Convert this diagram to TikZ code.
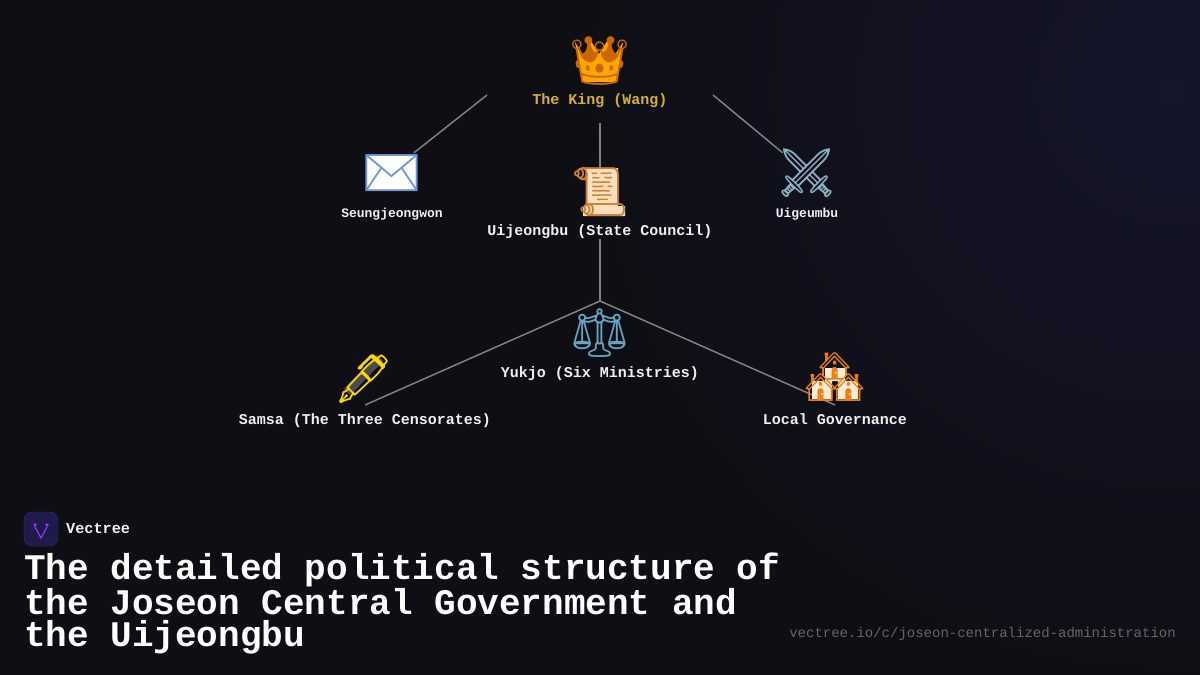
\documentclass[tikz,border=0pt]{standalone}
\usepackage{fontspec}
\setmainfont{Liberation Mono}
\newfontfamily\emojifont{Noto Emoji}
\usetikzlibrary{positioning}
\definecolor{bgbase}{HTML}{0E0E14}
\definecolor{bgglow}{HTML}{15152B}
\definecolor{linkgray}{HTML}{808080}
\definecolor{kinggold}{HTML}{D4AF37}
\definecolor{labelwhite}{HTML}{F0F0F0}
\definecolor{urlgray}{HTML}{666666}
\definecolor{logofill}{HTML}{1E1B4B}
\definecolor{logoedge}{HTML}{312E81}
\definecolor{logopurple}{HTML}{9333EA}
\pgfdeclarelayer{backdrop}
\pgfdeclarelayer{links}
\pgfsetlayers{backdrop,links,main}

\begin{document}
\begin{tikzpicture}[x=1pt,y=-1pt,node distance=5pt,
  icon/.style={font=\emojifont\fontsize{48}{48}\selectfont,inner sep=0pt,text height=36pt,text depth=14pt},
  mainlabel/.style={font=\bfseries\fontsize{15}{18}\selectfont,text=labelwhite,inner sep=0pt,text height=10pt,text depth=3pt},
  sidelabel/.style={font=\bfseries\fontsize{13}{16}\selectfont,text=labelwhite,inner sep=0pt,text height=9pt,text depth=3pt},
  link/.style={draw=linkgray,line width=1.5pt}]
\useasboundingbox (0,0) rectangle (1200,675);
% backdrop
\begin{pgfonlayer}{backdrop}
\fill[bgbase] (0,0) rectangle (1200,675);
\clip (0,0) rectangle (1200,675);
\shade[inner color=bgglow,outer color=bgbase] (1170,90) circle (620);
\end{pgfonlayer}

% link ends
\coordinate (kingleft) at (487,95);
\coordinate (kingright) at (713,95);
\coordinate (kingfoot) at (600,123);
\coordinate (fork) at (600,301);
\coordinate (samsafoot) at (365,405);
\coordinate (localfoot) at (835,405);

% colour under the emoji
\fill[orange!70!yellow] (575,42) -- (585,58) -- (589,38) -- (599,54) -- (609,38) -- (613,58) -- (623,42) -- (616,82) -- (582,82) -- cycle;
\fill[white] (367,155) rectangle (417,190);
\fill[orange!25!white] (586,168) rectangle (618,208) (583,206) rectangle (625,216);
\draw[black!70,line width=9pt] (347,392) -- (380,358);
\fill[orange!15!white] (812,381) rectangle (832,399) (838,381) rectangle (858,399) (825,368) rectangle (845,381);

% offices
\node[icon,text=orange!80!black] (crown) at (600,66) {👑};
\node[mainlabel,text=kinggold] (king) at (600,101) {The King (Wang)};
\node[icon,text=cyan!45!blue!60!white] (envelope) at (392,178) {✉};
\node[sidelabel,below=of envelope] (seung) {Seungjeongwon};
\node[icon,text=cyan!35!gray!80!white] (swords) at (807,178) {⚔};
\node[sidelabel,below=of swords] (uigeum) {Uigeumbu};
\node[icon,text=brown!80!orange] (scroll) at (600,197) {📜};
\node[mainlabel] (council) at (600,232) {Uijeongbu (State Council)};
\node[icon,text=cyan!50!gray] (scales) at (600,338) {⚖};
\node[mainlabel] (yukjo) at (600,374) {Yukjo (Six Ministries)};
\node[icon,text=yellow!75!orange] (pen) at (364,384) {🖋};
\node[mainlabel] (samsa) at (365,421) {Samsa (The Three Censorates)};
\node[icon,text=orange!70!brown] (houses) at (835,382) {🏘};
\node[mainlabel] (local) at (835,421) {Local Governance};

% links
\begin{pgfonlayer}{links}
\draw[link] (kingleft) -- (envelope.49);
\draw[link] (kingright) -- (swords.134);
\draw[link] (kingfoot) -- (scroll);
\draw[link] (council.south) -- (fork);
\draw[link] (fork) -- (samsafoot);
\draw[link] (fork) -- (localfoot);
\end{pgfonlayer}

% brand
\draw[logoedge,fill=logofill,rounded corners=8pt] (24,512) rectangle (58,546);
\draw[logopurple,line width=1.3pt] (35,527) -- (41,538) -- (47,527);
\fill[logopurple] (35,525) circle (1.8) (47,525) circle (1.8);
\node[font=\bfseries\fontsize{15.2}{18}\selectfont,text=labelwhite,inner sep=0pt,anchor=west] (brand) at (66,528.5) {Vectree};
\node[font=\bfseries\fontsize{36}{32.4}\selectfont,text=white,inner sep=0pt,align=left,anchor=north west] (title) at (24,553)
  {\lineskiplimit=-100pt The detailed political structure of\\the Joseon Central Government and\\the Uijeongbu};
\node[font=\fontsize{14}{17}\selectfont,text=urlgray,inner sep=0pt,anchor=east] (url) at (1176,633.5) {vectree.io/c/joseon-centralized-administration};
\end{tikzpicture}
\end{document}
